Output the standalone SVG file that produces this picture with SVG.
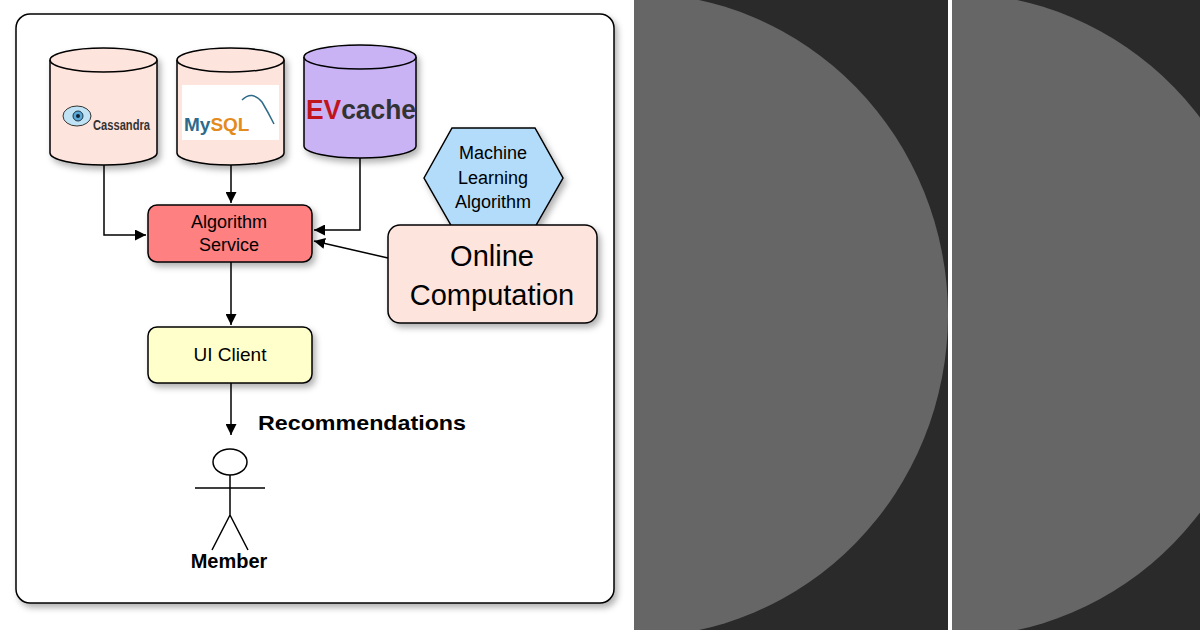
<svg xmlns="http://www.w3.org/2000/svg" width="1200" height="630" viewBox="0 0 1200 630">
<defs>
<filter id="sh" x="-10%" y="-10%" width="130%" height="130%"><feDropShadow dx="3" dy="4" stdDeviation="3" flood-color="#000" flood-opacity="0.3"/></filter>
<marker id="ah" viewBox="0 0 10 10" refX="10" refY="5" markerWidth="11" markerHeight="11" orient="auto" markerUnits="userSpaceOnUse"><path d="M0,0 L10,5 L0,10 z" fill="#000"/></marker>
<clipPath id="c1"><rect x="634" y="0" width="314" height="630"/></clipPath>
<clipPath id="c2"><rect x="952" y="0" width="248" height="630"/></clipPath>
</defs>
<style>
.t{font-family:"Liberation Sans",Arial,sans-serif}
.st{stroke:#000;stroke-width:1.5}
.cn{fill:none;stroke:#000;stroke-width:1.5;marker-end:url(#ah)}
</style>
<rect width="1200" height="630" fill="#fff"/>
<g id="panels">
<rect x="634" y="0" width="314" height="630" fill="#2a2a2a"/>
<ellipse cx="634" cy="315" rx="314" ry="322" fill="#666" clip-path="url(#c1)"/>
<rect x="952" y="0" width="248" height="630" fill="#2a2a2a"/>
<ellipse cx="952" cy="315" rx="314" ry="322" fill="#666" clip-path="url(#c2)"/>
</g>
<rect x="16" y="14" width="598" height="589" rx="14" fill="#fff" class="st" filter="url(#sh)"/>
<g id="cassandra" filter="url(#sh)">
<path d="M50,60 V153 A53.5,12 0 0 0 157,153 V60" fill="#fde4dc" class="st"/>
<ellipse cx="103.5" cy="60" rx="53.5" ry="12" fill="#fde4dc" class="st"/>
</g>
<g>
<ellipse cx="77" cy="116" rx="14" ry="10" fill="#bfe3f5" stroke="#333" stroke-width="1"/>
<circle cx="78" cy="116" r="5" fill="#5aa8d8" stroke="#234" stroke-width="1"/>
<circle cx="78" cy="116" r="2" fill="#123"/>
<text x="93" y="130" class="t" font-size="14" font-weight="bold" fill="#333" textLength="57" lengthAdjust="spacingAndGlyphs">Cassandra</text>
</g>
<g id="mysql" filter="url(#sh)">
<path d="M177,60 V153 A53.5,12 0 0 0 284,153 V60" fill="#fde4dc" class="st"/>
<ellipse cx="230.5" cy="60" rx="53.5" ry="12" fill="#fde4dc" class="st"/>
</g>
<g>
<rect x="182" y="85" width="97" height="55" fill="#fff"/>
<text x="184" y="131" class="t" font-size="19" font-weight="bold"><tspan fill="#2e6b8a">My</tspan><tspan fill="#e38b1d">SQL</tspan></text>
<path d="M242,100 Q252,90 262,102 Q268,112 274,124" fill="none" stroke="#2e6b8a" stroke-width="1.5"/>
</g>
<g id="evcache" filter="url(#sh)">
<path d="M304,57 V146 A56,12 0 0 0 416,146 V57" fill="#c9b3f5" class="st"/>
<ellipse cx="360" cy="57" rx="56" ry="12" fill="#c9b3f5" class="st"/>
</g>
<text x="306" y="119" class="t" font-size="28" font-weight="bold" textLength="110" lengthAdjust="spacingAndGlyphs"><tspan fill="#c0151c">EV</tspan><tspan fill="#333">cache</tspan></text>
<g id="connectors">
<path d="M104,165 V235 H146" class="cn"/>
<path d="M231,165 V203" class="cn"/>
<path d="M360,158 V230 H314" class="cn"/>
<path d="M388,258 L314,241" class="cn"/>
<path d="M231,262 V325" class="cn"/>
<path d="M231,383 V435" class="cn"/>
</g>
<g id="ml">
<polygon points="424,178 452,128 535,128 563,178 535,227 452,227" fill="#b3dcfb" class="st" filter="url(#sh)"/>
<text class="t" font-size="18" text-anchor="middle"><tspan x="493" y="159">Machine</tspan><tspan x="493" y="184">Learning</tspan><tspan x="493" y="208">Algorithm</tspan></text>
</g>
<g id="online">
<rect x="388" y="225" width="209" height="98" rx="12" fill="#fde4dc" class="st" filter="url(#sh)"/>
<text class="t" font-size="29" text-anchor="middle"><tspan x="492" y="266">Online</tspan><tspan x="492" y="305">Computation</tspan></text>
</g>
<g id="algo">
<rect x="148" y="205" width="164" height="57" rx="9" fill="#ff8080" class="st" filter="url(#sh)"/>
<text class="t" font-size="18" text-anchor="middle"><tspan x="229" y="228">Algorithm</tspan><tspan x="229" y="251">Service</tspan></text>
</g>
<g id="ui">
<rect x="148" y="327" width="164" height="56" rx="9" fill="#ffffcc" class="st" filter="url(#sh)"/>
<text x="230" y="361" class="t" font-size="19" text-anchor="middle">UI Client</text>
</g>
<text x="258" y="430" class="t" font-size="21" font-weight="bold" textLength="208" lengthAdjust="spacingAndGlyphs">Recommendations</text>
<g id="member">
<ellipse cx="230" cy="462" rx="17" ry="13" fill="#fff" class="st"/>
<path d="M230,475 V515 M195,488 H265 M230,515 L212,550 M230,515 L248,550" fill="none" class="st"/>
<text x="229" y="568" class="t" font-size="20" font-weight="bold" text-anchor="middle">Member</text>
</g>
</svg>
